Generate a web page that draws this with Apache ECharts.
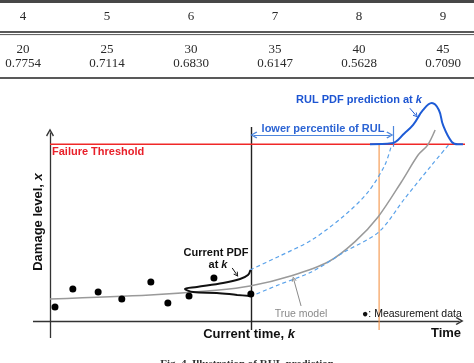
<!DOCTYPE html>
<html><head><meta charset="utf-8">
<script src="https://cdn.jsdelivr.net/npm/echarts@6/dist/echarts.min.js"></script>
<style>html,body{margin:0;padding:0;background:#fff}#c{width:474px;height:363px}</style>
</head><body><div id="c"></div>
<script>
// ---- table fragment ----
const tableHeader = ['4', '5', '6', '7', '8', '9'];
const tableTimes = ['20', '25', '30', '35', '40', '45'];
const tableValues = ['0.7754', '0.7114', '0.6830', '0.6147', '0.5628', '0.7090'];

// ---- chart data (time units, damage units) ----
const failureThreshold = 80;
const currentTime = 48.4;
const lowerPercentileTime = 82.6;
const orangeTime = 79.3;
const measurements = [[1.2, 6.3], [5.5, 14.5], [11.6, 13.1], [17.3, 10.0], [24.3, 17.6], [28.4, 8.1], [33.5, 11.3], [39.5, 19.5], [48.4, 12.2]];
const trueModel = [[0, 10.0], [24.1, 11.8], [40.0, 13.9], [48.2, 15.8], [58.2, 20.5], [67.1, 26.8], [73.5, 35.9], [79.1, 47.2], [84.7, 63.0], [88.7, 75.1], [91.0, 79.6], [92.8, 86.4]];
const upperBound = [[48.2, 23.1], [55.0, 29.1], [63.1, 36.7], [71.1, 48.0], [76.7, 58.5], [80.7, 70.6], [82.3, 79.6]];
const lowerBound = [[48.2, 11.0], [55.0, 16.3], [63.1, 22.3], [71.1, 31.4], [79.3, 40.4], [85.5, 55.5], [92.0, 70.6], [96.0, 79.6]];
const currentPdf = [[48.3, 23.1], [47.7, 20.8], [45.8, 19.0], [41.7, 17.2], [35.4, 15.4], [32.5, 14.5], [34.5, 13.1], [40.2, 12.7], [45.1, 11.8], [48.3, 11.3]];
const rulPdf = [[77.1, 80], [82.3, 80.4], [85.5, 85.1], [87.5, 88.7], [89.9, 95.5], [92.0, 98.6], [93.7, 95.5], [94.7, 88.7], [96.8, 81.1], [98.3, 80], [99.5, 80]];

const chev = 'path://M5,0 L10,7 L8.6,8 L5,2.8 L1.4,8 L0,7 Z';

const chart = echarts.init(document.getElementById('c'), null, {renderer: 'canvas'});

function seg(coords) { return {coords: coords}; }

const SANS = 'Liberation Sans, Arial, sans-serif';
const SERIF = 'Liberation Serif, Times New Roman, serif';

const graphics = [];
// table rules
graphics.push({type: 'rect', shape: {x: 0, y: 0, width: 474, height: 3}, style: {fill: '#474747'}});
graphics.push({type: 'line', shape: {x1: 0, y1: 32, x2: 474, y2: 32}, style: {stroke: '#222', lineWidth: 1.5}});
graphics.push({type: 'line', shape: {x1: 0, y1: 34.6, x2: 474, y2: 34.6}, style: {stroke: '#555', lineWidth: 1}});
graphics.push({type: 'line', shape: {x1: 0, y1: 78, x2: 474, y2: 78}, style: {stroke: '#222', lineWidth: 1.5}});
tableHeader.forEach((t, i) => {
  const cx = 23 + 84 * i;
  graphics.push({type: 'text', style: {text: t, x: cx, y: 17, align: 'center', verticalAlign: 'middle', fontFamily: SERIF, fontSize: 13, fill: '#2a2a2a'}});
  graphics.push({type: 'text', style: {text: tableTimes[i], x: cx, y: 50, align: 'center', verticalAlign: 'middle', fontFamily: SERIF, fontSize: 13, fill: '#2a2a2a'}});
  graphics.push({type: 'text', style: {text: tableValues[i], x: cx, y: 64, align: 'center', verticalAlign: 'middle', fontFamily: SERIF, fontSize: 13, fill: '#2a2a2a'}});
});
// chart labels
graphics.push({type: 'text', z: 10, style: {text: 'Failure Threshold', x: 52, y: 152, verticalAlign: 'middle', fontFamily: SANS, fontSize: 11, fontWeight: 'bold', fill: '#e8202a'}});
graphics.push({type: 'text', z: 10, style: {text: '{a|RUL PDF prediction at }{i|k}', x: 359, y: 100, align: 'center', verticalAlign: 'middle', rich: {a: {fontFamily: SANS, fontSize: 11, fontWeight: 'bold', fill: '#1d55d2'}, i: {fontFamily: SANS, fontSize: 11, fontWeight: 'bold', fontStyle: 'italic', fill: '#1d55d2'}}}});
graphics.push({type: 'text', z: 10, style: {text: 'lower percentile of RUL', x: 323, y: 129, align: 'center', verticalAlign: 'middle', fontFamily: SANS, fontSize: 11, fontWeight: 'bold', fill: '#2c64d4'}});
graphics.push({type: 'text', z: 10, style: {text: 'Current PDF', x: 216, y: 253, align: 'center', verticalAlign: 'middle', fontFamily: SANS, fontSize: 11, fontWeight: 'bold', fill: '#111'}});
graphics.push({type: 'text', z: 10, style: {text: '{a|at }{i|k}', x: 218, y: 265, align: 'center', verticalAlign: 'middle', rich: {a: {fontFamily: SANS, fontSize: 11, fontWeight: 'bold', fill: '#111'}, i: {fontFamily: SANS, fontSize: 11, fontWeight: 'bold', fontStyle: 'italic', fill: '#111'}}}});
graphics.push({type: 'text', z: 10, style: {text: 'True model', x: 301, y: 314, align: 'center', verticalAlign: 'middle', fontFamily: SANS, fontSize: 10.5, fill: '#8a8a8a'}});
graphics.push({type: 'text', z: 10, style: {text: '\u25CF: Measurement data', x: 362, y: 314, verticalAlign: 'middle', fontFamily: SANS, fontSize: 10.5, fill: '#111'}});
graphics.push({type: 'text', z: 10, style: {text: '{a|Current time, }{i|k}', x: 249, y: 334, align: 'center', verticalAlign: 'middle', rich: {a: {fontFamily: SANS, fontSize: 13, fontWeight: 'bold', fill: '#111'}, i: {fontFamily: SANS, fontSize: 13, fontWeight: 'bold', fontStyle: 'italic', fill: '#111'}}}});
graphics.push({type: 'text', z: 10, style: {text: 'Time', x: 446, y: 333, align: 'center', verticalAlign: 'middle', fontFamily: SANS, fontSize: 13, fontWeight: 'bold', fill: '#111'}});
graphics.push({type: 'text', z: 10, x: 38, y: 222, rotation: Math.PI / 2, style: {text: '{a|Damage level, }{i|x}', x: 0, y: 0, align: 'center', verticalAlign: 'middle', rich: {a: {fontFamily: SANS, fontSize: 13, fontWeight: 'bold', fill: '#111'}, i: {fontFamily: SANS, fontSize: 13, fontWeight: 'bold', fontStyle: 'italic', fill: '#111'}}}});
graphics.push({type: 'text', z: 10, style: {text: 'Fig. 4. Illustration of RUL prediction', x: 247, y: 358.5, align: 'center', verticalAlign: 'top', fontFamily: SERIF, fontSize: 11, fontWeight: 'bold', fill: '#333'}});

const option = {
  animation: false,
  backgroundColor: '#fff',
  grid: {left: 29.25, right: 9, top: 100, bottom: 24.32, containLabel: false},
  xAxis: {type: 'value', min: -5, max: 100, show: false},
  yAxis: {type: 'value', min: -8, max: 100, show: false},
  graphic: graphics,
  series: [
    {type: 'lines', coordinateSystem: 'cartesian2d', symbol: ['none', chev], symbolSize: 8, z: 3,
      lineStyle: {color: '#333', width: 1.3, opacity: 1},
      data: [seg([[0, -7.7], [0, 85.3]]), seg([[-4.1, 0], [98.7, 0]])]},
    {type: 'line', data: [[0, failureThreshold], [100, failureThreshold]], symbol: 'none', z: 4,
      lineStyle: {color: '#f02828', width: 1.6}},
    {type: 'lines', coordinateSystem: 'cartesian2d', symbol: 'none', z: 3,
      lineStyle: {color: '#222', width: 1.4, opacity: 1},
      data: [seg([[currentTime, -4.1], [currentTime, 87.8]])]},
    {type: 'line', data: [[orangeTime, -4.1], [orangeTime, failureThreshold]], symbol: 'none', z: 3,
      lineStyle: {color: '#f59448', width: 1.1}},
    {type: 'line', data: trueModel, symbol: 'none', smooth: 0.3, z: 5,
      lineStyle: {color: '#9a9a9a', width: 1.5}},
    {type: 'line', data: upperBound, symbol: 'none', smooth: 0.3, z: 5,
      lineStyle: {color: '#5aa2ea', width: 1.2, type: [4, 3]}},
    {type: 'line', data: lowerBound, symbol: 'none', smooth: 0.3, z: 5,
      lineStyle: {color: '#5aa2ea', width: 1.2, type: [4, 3]}},
    {type: 'line', data: currentPdf, symbol: 'none', smooth: 0.35, z: 6,
      lineStyle: {color: '#111', width: 2}},
    {type: 'line', data: rulPdf, symbol: 'none', smooth: 0.4, z: 6,
      lineStyle: {color: '#1d5bd6', width: 2}},
    {type: 'scatter', data: measurements, symbol: 'circle', symbolSize: 7, z: 7,
      itemStyle: {color: '#000', opacity: 1}},
    {type: 'lines', coordinateSystem: 'cartesian2d', symbol: [chev, chev], symbolSize: 7, z: 6,
      lineStyle: {color: '#4d86dc', width: 1, opacity: 1},
      data: [seg([[currentTime + 0.7, 84.2], [lowerPercentileTime - 0.7, 84.2]])]},
    {type: 'lines', coordinateSystem: 'cartesian2d', symbol: 'none', z: 6,
      lineStyle: {color: '#4d86dc', width: 1.2, opacity: 1},
      data: [seg([[lowerPercentileTime, 78.9], [lowerPercentileTime, 88.2]])]},
    {type: 'lines', coordinateSystem: 'cartesian2d', symbol: ['none', chev], symbolSize: 5, z: 6,
      lineStyle: {color: '#1d5bd6', width: 1, opacity: 1},
      data: [seg([[86.7, 96.3], [88.2, 93.0]])]},
    {type: 'lines', coordinateSystem: 'cartesian2d', symbol: ['none', chev], symbolSize: 5, z: 6,
      lineStyle: {color: '#111', width: 1, opacity: 1},
      data: [seg([[43.9, 24.0], [45.0, 21.0]])]},
    {type: 'lines', coordinateSystem: 'cartesian2d', symbol: ['none', chev], symbolSize: 5, z: 6,
      lineStyle: {color: '#8a8a8a', width: 1, opacity: 1},
      data: [seg([[60.5, 6.8], [58.7, 19.0]])]}
  ]
};
chart.setOption(option);
</script>
</body></html>
